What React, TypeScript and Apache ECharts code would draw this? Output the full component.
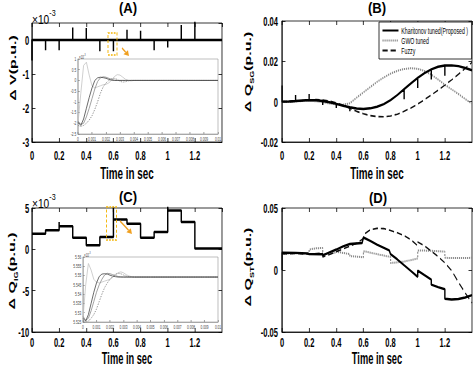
import React, { useEffect, useRef } from "react";
import * as echarts from "echarts";

// The reference figure is horizontally compressed; we draw in a wider space and squeeze it with CSS.
const S = 0.58;
const W = Math.round(474 / S);
const H = 369;
const px = (v: number) => v / S;
const FONT = "'Liberation Sans', Arial, Helvetica, sans-serif";

// ---------- DATA ----------
const KH = "Kharitonov tuned(Proposed )";
const GWO = "GWO tuned";
const FZ = "Fuzzy";

// Panel A : ΔV (×10^-3), flat at 0 with spikes at switching instants
const aSpikeTimes = [0, 0.1, 0.2, 0.3, 0.4, 0.5, 0.6, 0.7, 0.8, 0.9, 1.0, 1.1, 1.2];
const aSpikeValues = [-0.6, -0.3, -0.3, 0.37, 0.35, -0.33, -0.33, 0.3, 0.27, -0.3, -0.22, 0.44, 0.6];
const aEndTime = 1.4;

// Panel B : ΔQ_SG
const bTime = [0, 0.05, 0.1, 0.15, 0.2, 0.25, 0.3, 0.35, 0.4, 0.45, 0.5, 0.55, 0.6, 0.65, 0.7, 0.75, 0.8, 0.85, 0.9, 0.95, 1.0, 1.05, 1.1, 1.15, 1.2, 1.25, 1.3, 1.35, 1.4];
const bKh = [0, 0.0001, 0.0003, 0.0006, 0.0008, 0.0007, 0.0003, -0.0003, -0.0011, -0.002, -0.0028, -0.0034, -0.0036, -0.0033, -0.0025, -0.0012, 0.0008, 0.0033, 0.0062, 0.0091, 0.0118, 0.0142, 0.016, 0.0173, 0.0179, 0.018, 0.0176, 0.0167, 0.0156];
const bGwo = [0, 0, 0.0001, 0.0003, 0.0004, 0.0002, -0.0003, -0.0009, -0.0014, -0.0015, -0.0008, 0.002, 0.0046, 0.0072, 0.0098, 0.012, 0.0139, 0.0153, 0.0162, 0.0166, 0.0163, 0.0152, 0.0134, 0.011, 0.0084, 0.0061, 0.0038, 0.0013, -0.001];
const bFz = [0, 0, 0.0002, 0.0005, 0.0009, 0.001, 0.0008, 0.0003, -0.0006, -0.0018, -0.0033, -0.0048, -0.006, -0.0069, -0.0074, -0.0075, -0.0071, -0.0062, -0.0048, -0.0031, -0.0012, 0.001, 0.0033, 0.0057, 0.0082, 0.0108, 0.0136, 0.0165, 0.0195];
const bKhSpikeTimes = [0, 0.1, 0.2, 0.3, 0.4, 0.5, 0.9, 1.0, 1.1, 1.2];
const bKhSpikeHeights = [0.008, 0.003, 0.003, -0.002, -0.002, -0.002, -0.005, -0.005, -0.005, -0.005];

// Panel C : ΔQ_IG (×10^-3), piecewise levels with spikes
const cPoints: number[][] = [
  [0, 1.9], [0.1, 1.9], [0.1, 2.3], [0.2, 2.3], [0.2, 3.3], [0.2, 2.8], [0.3, 2.8], [0.3, 1.4],
  [0.4, 1.4], [0.4, 0.5], [0.5, 0.5], [0.5, 1.5], [0.6, 1.5], [0.6, 5.2], [0.6, 3.6], [0.7, 3.6],
  [0.7, 3.1], [0.8, 3.1], [0.8, 1.4], [0.9, 1.4], [0.9, 2.1], [1.0, 2.1], [1.0, 5.6], [1.0, 4.7],
  [1.1, 4.7], [1.1, 3.3], [1.2, 3.3], [1.2, 0.1], [1.4, 0.1],
];

// Panel D : ΔQ_ST
const dKh: number[][] = [
  [0, 0], [0, 0.014], [0.1, 0.0138], [0.19, 0.0134], [0.2, 0.0128], [0.3, 0.0127], [0.3, 0.0118],
  [0.35, 0.0142], [0.4, 0.0165], [0.45, 0.019], [0.5, 0.021], [0.5, 0.0205], [0.59, 0.0218],
  [0.6, 0.0262], [0.65, 0.0235], [0.7, 0.0205], [0.79, 0.0158], [0.8, 0.0128], [0.85, 0.0085],
  [0.9, 0.0038], [0.95, -0.0008], [1.0, -0.0055], [1.0, -0.0005], [1.05, -0.0042], [1.1, -0.0078],
  [1.1, -0.0118], [1.15, -0.0138], [1.2, -0.0155], [1.2, -0.0232], [1.25, -0.0238], [1.3, -0.0234],
  [1.35, -0.0222], [1.4, -0.0203],
];
const dGwo: number[][] = [
  [0, 0.013], [0.1, 0.0135], [0.2, 0.0128], [0.2, 0.0165], [0.25, 0.0175], [0.3, 0.0178], [0.3, 0.0125],
  [0.35, 0.0132], [0.4, 0.0142], [0.4, 0.0148], [0.45, 0.0138], [0.5, 0.0128], [0.5, 0.0112],
  [0.55, 0.0108], [0.6, 0.0102], [0.6, 0.0152], [0.7, 0.0128], [0.8, 0.0105], [0.8, 0.0056],
  [0.9, 0.0068], [1.0, 0.0092], [1.0, 0.0158], [1.1, 0.0155], [1.2, 0.0148], [1.2, 0.0098],
  [1.3, 0.0097], [1.4, 0.0098],
];
const dFz: number[][] = [
  [0, 0.013], [0.1, 0.0134], [0.2, 0.0127], [0.3, 0.0138], [0.3, 0.0105], [0.35, 0.0125], [0.4, 0.0148],
  [0.45, 0.017], [0.5, 0.0192], [0.55, 0.0215], [0.6, 0.0255], [0.6, 0.0285], [0.65, 0.0325],
  [0.7, 0.0336], [0.75, 0.0334], [0.8, 0.0318], [0.85, 0.03], [0.9, 0.0277], [0.95, 0.0245],
  [1.0, 0.0195], [1.0, 0.0225], [1.05, 0.0195], [1.1, 0.0152], [1.15, 0.0108], [1.2, 0.0058],
  [1.25, -0.0005], [1.3, -0.0098], [1.35, -0.0185], [1.4, -0.0265],
];

// Insets (zoom of the first switching transient), values ×10^-3
const insetTime = [0, 0.0002, 0.0004, 0.0006, 0.0008, 0.001, 0.0012, 0.0014, 0.0016, 0.0018, 0.002, 0.0022, 0.0024, 0.0026, 0.0028, 0.003, 0.0032, 0.0034, 0.0036, 0.0038, 0.004, 0.005, 0.006, 0.007, 0.008, 0.009, 0.01];
const iaLight = [-2.0, -0.6, 0.7, 0.85, 0.25, -0.25, -0.35, -0.3, -0.25, -0.2, -0.18, -0.12, 0.02, 0.18, 0.27, 0.25, 0.15, 0.05, 0, -0.02, 0, 0, 0, 0, 0, 0, 0];
const iaDark = [-1.95, -2.1, -1.8, -1.3, -0.8, -0.35, 0, 0.12, 0.15, 0.13, 0.1, 0.05, 0.01, 0, 0, 0, 0, 0, 0, 0, 0, 0, 0, 0, 0, 0, 0];
const iaMid = [-1.9, -2.05, -2.0, -1.7, -1.3, -0.85, -0.4, -0.05, 0.12, 0.17, 0.15, 0.1, 0.05, 0.01, 0, 0, 0, 0, 0, 0, 0, 0, 0, 0, 0, 0, 0];
const iaDot = [-2.1, -2.15, -2.1, -2.0, -1.85, -1.65, -1.35, -1.0, -0.6, -0.3, -0.12, 0, 0.08, 0.1, 0.05, -0.04, -0.08, -0.06, -0.02, 0, 0, 0, 0, 0, 0, 0, 0];
const icLight = [5.527, 5.545, 5.5565, 5.553, 5.548, 5.5465, 5.546, 5.5465, 5.547, 5.5475, 5.548, 5.549, 5.5505, 5.5515, 5.552, 5.5515, 5.5505, 5.5498, 5.5494, 5.5492, 5.5492, 5.5492, 5.5492, 5.5492, 5.5492, 5.5492, 5.5492];
const icDark = [5.527, 5.5255, 5.529, 5.535, 5.541, 5.546, 5.5495, 5.5508, 5.551, 5.5508, 5.5502, 5.5497, 5.5494, 5.5492, 5.5492, 5.5492, 5.5492, 5.5492, 5.5492, 5.5492, 5.5492, 5.5492, 5.5492, 5.5492, 5.5492, 5.5492, 5.5492];
const icMid = [5.528, 5.526, 5.527, 5.531, 5.536, 5.541, 5.545, 5.548, 5.5503, 5.5512, 5.551, 5.5505, 5.55, 5.5495, 5.5493, 5.5492, 5.5492, 5.5492, 5.5492, 5.5492, 5.5492, 5.5492, 5.5492, 5.5492, 5.5492, 5.5492, 5.5492];
const icDot = [5.5255, 5.525, 5.5255, 5.527, 5.529, 5.532, 5.536, 5.54, 5.5435, 5.546, 5.548, 5.5495, 5.5507, 5.5512, 5.551, 5.5503, 5.5497, 5.5494, 5.5493, 5.5492, 5.5492, 5.5492, 5.5492, 5.5492, 5.5492, 5.5492, 5.5492];

// ---------- helpers ----------
const zip = (t: number[], v: number[]) => t.map((x, i) => [x, v[i]]);
function spikesOnBaseline(times: number[], vals: number[], end: number) {
  const out: number[][] = [[0, 0]];
  times.forEach((t, i) => { out.push([t, 0], [t, vals[i]], [t, 0]); });
  out.push([end, 0]);
  return out;
}
function curveWithSpikes(t: number[], v: number[], st: number[], sh: number[]) {
  const out: number[][] = [];
  t.forEach((x, i) => {
    out.push([x, v[i]]);
    const k = st.findIndex((s) => Math.abs(s - x) < 1e-9);
    if (k >= 0) out.push([x, v[i] + sh[k]], [x, v[i]]);
  });
  return out;
}

const lbl = { fontSize: 13, fontWeight: "bold" as const, color: "#000", fontFamily: FONT };
const mainX = (gridIndex: number, margin: number, gap: number, nameSize: number) => ({
  type: "value", gridIndex, min: 0, max: 1.4, interval: 0.2,
  name: "Time in sec", nameLocation: "middle", nameGap: gap,
  nameTextStyle: { fontSize: nameSize, fontWeight: "bold", color: "#000", fontFamily: FONT },
  axisLine: { show: true, onZero: false, lineStyle: { color: "#000", width: 1 } },
  axisTick: { show: true, inside: true, length: 4, lineStyle: { color: "#000" } },
  axisLabel: { ...lbl, margin, showMaxLabel: false },
  splitLine: { show: false },
});
const mainY = (gridIndex: number, min: number, max: number, interval: number, margin: number, showMax = true) => ({
  type: "value", gridIndex, min, max, interval,
  axisLine: { show: true, onZero: false, lineStyle: { color: "#000", width: 1 } },
  axisTick: { show: true, inside: true, length: 6, lineStyle: { color: "#000" } },
  axisLabel: { ...lbl, margin, showMaxLabel: showMax },
  splitLine: { show: false },
});
// mirrored tick-only axes (top / right) of the boxed plots
const mirrorX = (gridIndex: number) => ({
  type: "value", gridIndex, position: "top", min: 0, max: 1.4, interval: 0.2,
  axisLine: { show: false, onZero: false }, axisLabel: { show: false }, splitLine: { show: false },
  axisTick: { show: true, inside: true, length: 4, lineStyle: { color: "#000" } },
});
const mirrorY = (gridIndex: number, min: number, max: number, interval: number) => ({
  type: "value", gridIndex, position: "right", min, max, interval,
  axisLine: { show: false, onZero: false }, axisLabel: { show: false }, splitLine: { show: false },
  axisTick: { show: true, inside: true, length: 6, lineStyle: { color: "#000" } },
});
const insetLbl = { fontSize: 5.5, color: "#444", fontFamily: FONT };
const insetX = (gridIndex: number) => ({
  type: "value", gridIndex, min: 0, max: 0.01, interval: 0.001,
  axisLine: { show: true, onZero: false, lineStyle: { color: "#888", width: 0.8 } },
  axisTick: { show: true, inside: true, length: 2, lineStyle: { color: "#888" } },
  axisLabel: { ...insetLbl, margin: 2, formatter: (v: number) => (v === 0 ? "0" : String(parseFloat(v.toFixed(3)))) },
  splitLine: { show: false },
});
const insetY = (gridIndex: number, min: number, max: number, interval: number) => ({
  type: "value", gridIndex, min, max, interval,
  axisLine: { show: true, onZero: false, lineStyle: { color: "#888", width: 0.8 } },
  axisTick: { show: true, inside: true, length: 3, lineStyle: { color: "#888" } },
  axisLabel: { ...insetLbl, margin: 3, formatter: (v: number) => String(parseFloat(v.toFixed(3))) },
  splitLine: { show: false },
});

const khStyle = { color: "#000", width: 2.4 };
const gwoStyle = { color: "#8c8c8c", width: 2, type: [2, 1.5] };
const fzStyle = { color: "#111", width: 1.6, type: [9, 5] };

const line = (name: string, idx: number, data: number[][], lineStyle: any, z = 3) => ({
  type: "line", name, xAxisIndex: idx, yAxisIndex: idx, data, symbol: "none", showSymbol: false,
  lineStyle, itemStyle: { color: lineStyle.color }, z, animation: false, emphasis: { disabled: true },
});

const titleText = (t: string, x: number, y: number) => ({
  type: "text", x: px(x), y, scaleX: 1.5, z: 20,
  style: { text: t, fontSize: 15, fontWeight: "bold", fill: "#000", fontFamily: FONT, align: "center", verticalAlign: "middle" },
});
const yName = (main: string, sub: string, x: number, y: number) => ({
  type: "text", x: px(x), y, rotation: Math.PI / 2, z: 20,
  style: {
    text: sub ? `{a|Δ Q}{s|${sub}}{a|(p.u.)}` : `{a|${main}}`,
    align: "center", verticalAlign: "middle", fill: "#000", fontFamily: FONT, fontSize: 16, fontWeight: "bold",
    rich: {
      a: { fontSize: 16, fontWeight: "bold", fontFamily: FONT, fill: "#000", lineHeight: 22, verticalAlign: "middle" },
      s: { fontSize: 9, fontWeight: "bold", fontFamily: FONT, fill: "#000", lineHeight: 9, verticalAlign: "bottom" },
    },
  },
});
const expText = (x: number, y: number, fs: number, sc: number, color = "#000") => ({
  type: "text", x: px(x), y, scaleX: sc, z: 20,
  style: {
    text: "{a|×10}{b|-3}", align: "left", verticalAlign: "middle", fill: color, fontFamily: FONT, fontSize: fs,
    rich: {
      a: { fontSize: fs, fontFamily: FONT, fill: color, lineHeight: fs * 1.3, verticalAlign: "bottom" },
      b: { fontSize: fs * 0.7, fontFamily: FONT, fill: color, lineHeight: fs * 0.7, verticalAlign: "top" },
    },
  },
});
const box = (x: number, y: number, w: number, h: number) => ({
  type: "rect", z: 20, shape: { x: px(x), y, width: px(w), height: h },
  style: { fill: "none", stroke: "#f4b400", lineWidth: 1.6, lineDash: [3, 2] },
});
const arrow = (x1: number, y1: number, x2: number, y2: number) => {
  const dx = x2 - x1, dy = y2 - y1, L = Math.hypot(dx, dy);
  const ux = dx / L, uy = dy / L, hl = 5, hw = 3;
  const bx = x2 - ux * hl, by = y2 - uy * hl;
  return [
    { type: "line", z: 20, shape: { x1: px(x1), y1, x2: px(bx), y2: by }, style: { stroke: "#f0a020", lineWidth: 1.8 } },
    {
      type: "polygon", z: 20,
      shape: { points: [[px(x2), y2], [px(bx - uy * hw), by + ux * hw], [px(bx + uy * hw), by - ux * hw]] },
      style: { fill: "#f0a020" },
    },
  ];
};

export default function App() {
  const ref = useRef<HTMLDivElement>(null);
  useEffect(() => {
    const el = ref.current;
    if (!el) return;
    const chart = echarts.init(el, null, { renderer: "svg" });
    const mainGrid = { show: true, borderColor: "#000", borderWidth: 1, backgroundColor: "#fff", containLabel: false, outerBoundsMode: "none" };
    const insetGrid = { show: true, borderColor: "#999", borderWidth: 0.8, backgroundColor: "#fff", containLabel: false, outerBoundsMode: "none" };
    const option: any = {
      animation: false,
      backgroundColor: "#fff",
      textStyle: { fontFamily: FONT },
      grid: [
        { ...mainGrid, left: px(32), top: 23, width: px(190), height: 119 },
        { ...mainGrid, left: px(282), top: 21, width: px(190), height: 121 },
        { ...mainGrid, left: px(32), top: 208, width: px(190), height: 124 },
        { ...mainGrid, left: px(282), top: 208, width: px(190), height: 124 },
        { ...insetGrid, left: px(78), top: 59, width: px(140), height: 75 },
        { ...insetGrid, left: px(83), top: 257, width: px(135), height: 65 },
      ],
      xAxis: [
        mainX(0, 7, 22, 17), mainX(1, 7, 22, 17), mainX(2, 4, 18, 16), mainX(3, 4, 18, 16),
        insetX(4), insetX(5),
        mirrorX(0), mirrorX(1), mirrorX(2), mirrorX(3),
      ],
      yAxis: [
        mainY(0, -3, 0.5, 1, 5, false),
        mainY(1, -0.02, 0.04, 0.02, 7),
        mainY(2, -10, 5, 5, 5),
        mainY(3, -0.05, 0.05, 0.05, 7),
        insetY(4, -2.5, 1, 0.5),
        insetY(5, 5.525, 5.56, 0.005),
        mirrorY(0, -3, 0.5, 1),
        mirrorY(1, -0.02, 0.04, 0.02),
        mirrorY(2, -10, 5, 5),
        mirrorY(3, -0.05, 0.05, 0.05),
      ],
      legend: {
        data: [KH, GWO, FZ], orient: "vertical", left: px(379), top: 22,
        itemWidth: px(16), itemHeight: 8, itemGap: 1, padding: [4, 6, 4, 5],
        backgroundColor: "#fff", borderColor: "#000", borderWidth: 1, borderRadius: 0,
        itemStyle: { opacity: 0 },
        textStyle: { fontSize: 9, fontFamily: FONT, color: "#000", lineHeight: 8.5 },
        selectedMode: false, z: 10,
      },
      series: [
        line("ΔV", 0, spikesOnBaseline(aSpikeTimes, aSpikeValues, aEndTime), { color: "#000", width: 2.5 }),
        line(KH, 1, curveWithSpikes(bTime, bKh, bKhSpikeTimes, bKhSpikeHeights), khStyle, 4),
        line(GWO, 1, zip(bTime, bGwo), gwoStyle),
        line(FZ, 1, zip(bTime, bFz), fzStyle),
        line("ΔQIG", 2, cPoints, { color: "#000", width: 2.5 }),
        line(KH, 3, dKh, khStyle, 4),
        line(GWO, 3, dGwo, gwoStyle),
        line(FZ, 3, dFz, fzStyle),
        line("inset A 1", 4, zip(insetTime, iaLight), { color: "#c4c4c4", width: 1 }),
        line("inset A 2", 4, zip(insetTime, iaMid), { color: "#8a8a8a", width: 1 }),
        line("inset A 3", 4, zip(insetTime, iaDot), { color: "#777", width: 1, type: [1.5, 1.5] }),
        line("inset A 4", 4, zip(insetTime, iaDark), { color: "#444", width: 1 }),
        line("inset C 1", 5, zip(insetTime, icLight), { color: "#c4c4c4", width: 1 }),
        line("inset C 2", 5, zip(insetTime, icMid), { color: "#8a8a8a", width: 1 }),
        line("inset C 3", 5, zip(insetTime, icDot), { color: "#777", width: 1, type: [1.5, 1.5] }),
        line("inset C 4", 5, zip(insetTime, icDark), { color: "#444", width: 1 }),
      ],
      graphic: [
        titleText("(A)", 128, 8),
        titleText("(B)", 377, 8),
        titleText("(C)", 128, 197),
        titleText("(D)", 378, 198),
        yName("Δ V(p.u.)", "", 12.5, 68),
        yName("", "SG", 248, 72),
        yName("", "IG", 12, 271),
        yName("", "ST", 248, 267),
        expText(32, 17, 13, 1.35),
        expText(32, 201, 13, 1.35),
        expText(79, 56.5, 5, 1.0, "#444"),
        expText(84, 254.5, 5, 1.0, "#444"),
        box(108, 33, 9, 22),
        box(106.5, 207, 10, 33),
        ...arrow(122, 48, 129, 56),
        ...arrow(120, 221, 132, 234),
      ],
    };
    chart.setOption(option);
    return () => chart.dispose();
  }, []);
  return (
    <div style={{ position: "fixed", left: 0, top: 0, width: 474, height: 369, overflow: "hidden", background: "#fff" }}>
      <div ref={ref} style={{ width: W, height: H, transform: `scaleX(${S})`, transformOrigin: "0 0" }} />
    </div>
  );
}
